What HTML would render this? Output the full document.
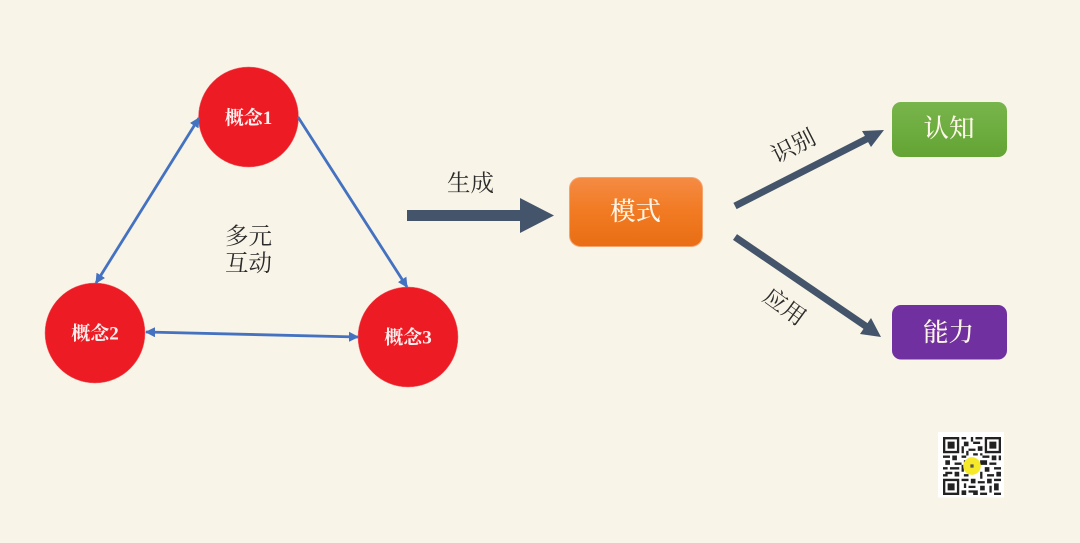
<!DOCTYPE html>
<html><head><meta charset="utf-8"><style>
html,body{margin:0;padding:0;background:#f8f4e7}
svg{display:block}
text{font-family:"Liberation Serif","Noto Serif CJK SC",serif;text-anchor:middle}
</style></head><body>
<svg width="1080" height="543" viewBox="0 0 1080 543" xmlns="http://www.w3.org/2000/svg">
<defs>
<linearGradient id="o" x1="0" y1="0" x2="0" y2="1"><stop offset="0" stop-color="#f58b44"/><stop offset=".5" stop-color="#f17a22"/><stop offset="1" stop-color="#e96e14"/></linearGradient>
<linearGradient id="g" x1="0" y1="0" x2="0" y2="1"><stop offset="0" stop-color="#78b54c"/><stop offset="1" stop-color="#63a434"/></linearGradient>
<marker id="b" viewBox="0 0 10 10" refX="9" refY="5" markerWidth="3.600" markerHeight="3.600" orient="auto-start-reverse"><path d="M0 0L10 5L0 10z" fill="#4472c0"/></marker>
</defs>
<rect width="1080" height="543" fill="#f8f4e7"/>
<g fill="#ed1c24" stroke="#f2636a" stroke-width="0.5">
<circle cx="248.500" cy="117" r="50"/><circle cx="95" cy="333" r="50"/><circle cx="408" cy="337" r="50"/>
</g>
<g stroke="#4472c0" stroke-width="2.800" fill="none">
<line x1="199" y1="118" x2="96" y2="283" marker-start="url(#b)" marker-end="url(#b)"/>
<line x1="298" y1="117" x2="407" y2="287" marker-end="url(#b)"/>
<line x1="146" y1="332" x2="358" y2="337" marker-start="url(#b)" marker-end="url(#b)"/>
</g>
<g fill="#fff" font-size="19" font-weight="700" fill-opacity=".93">
<text x="248.500" y="124">概念1</text>
<text x="95" y="339.500">概念2</text>
<text x="408" y="343.500">概念3</text>
</g>
<g fill="#2b2b2b" font-size="23.500">
<text x="248.500" y="244">多元</text>
<text x="248.500" y="271">互动</text>
<text x="470.500" y="191">生成</text>
<text font-size="23" transform="translate(797,153) rotate(-27)">识别</text>
<text font-size="23" transform="translate(780,313) rotate(36)">应用</text>
</g>
<path d="M407 210H520V198L554 215.500L520 233V221H407z" fill="#44546a"/>
<path d="M733.400 202.900L864.900 135.900L862 131L884 130L871 147L868.100 142.100L736.600 209.100z" fill="#44546a"/>
<path d="M737 234.100L867.500 323.100L871 318L881 337L860 334L863.500 328.900L733 239.900z" fill="#44546a"/>
<rect x="569.500" y="177.500" width="133" height="69" rx="11" fill="url(#o)" stroke="#f4a36c" stroke-width="1"/>
<rect x="892" y="102" width="115" height="55" rx="9" fill="url(#g)"/>
<rect x="892" y="305" width="115" height="54.500" rx="9" fill="#7030a0"/>
<g fill="#fdf6e8" font-size="25.500" font-weight="500">
<text x="635.500" y="220">模式</text>
<text x="949" y="137">认知</text>
<text x="948.500" y="341">能力</text>
</g>
<rect x="938" y="432" width="66" height="65.500" fill="#fff"/>
<g transform="translate(943,437) scale(2.32)" fill="#222">
<path d="M0 0h7v7h-7zM1 1v5h5v-5zM2 2h3v3h-3z" fill-rule="evenodd"/>
<path d="M18 0h7v7h-7zM19 1v5h5v-5zM20 2h3v3h-3z" fill-rule="evenodd"/>
<path d="M0 18h7v7h-7zM1 19v5h5v-5zM2 20h3v3h-3z" fill-rule="evenodd"/>
<path d="M8 0h2v1h-2zM12 0h1v2h-1zM14 0h3v1h-3zM9 2h2v2h-2zM13 2h3v1h-3zM8 4h1v3h-1zM11 5h3v1h-3zM15 4h2v2h-2zM10 6h1v2h-1zM13 7h2v1h-2zM16 7h1v1h-1z"/>
<path d="M0 8h3v1h-3zM4 8h2v2h-2zM8 8h2v1h-2zM17 8h3v1h-3zM21 8h2v2h-2zM24 8h1v2h-1zM1 10h2v2h-2zM5 11h3v1h-3zM9 10h2v1h-2zM16 10h3v2h-3zM20 11h3v1h-3zM0 13h2v1h-2zM3 13h4v1h-4zM8 12h1v3h-1zM18 13h2v2h-2zM22 13h3v1h-3zM1 15h3v1h-3zM5 15h2v2h-2zM9 16h2v1h-2zM16 15h1v3h-1zM19 16h3v1h-3zM23 15h2v2h-2zM0 16h2v1h-2z"/>
<path d="M8 18h3v1h-3zM12 18h2v2h-2zM15 19h3v1h-3zM19 18h2v2h-2zM22 18h3v1h-3zM9 20h1v2h-1zM11 21h3v1h-3zM16 21h2v2h-2zM20 21h1v3h-1zM22 20h2v3h-2zM8 23h2v2h-2zM11 23h4v1h-4zM13 24h2v1h-2zM16 24h3v1h-3zM22 24h3v1h-3z"/>
<circle cx="12.500" cy="12.500" r="3.800" fill="#f5e92a"/>
<rect x="11.800" y="11.800" width="1.400" height="1.400" fill="#555"/>
</g>
</svg>
</body></html>
